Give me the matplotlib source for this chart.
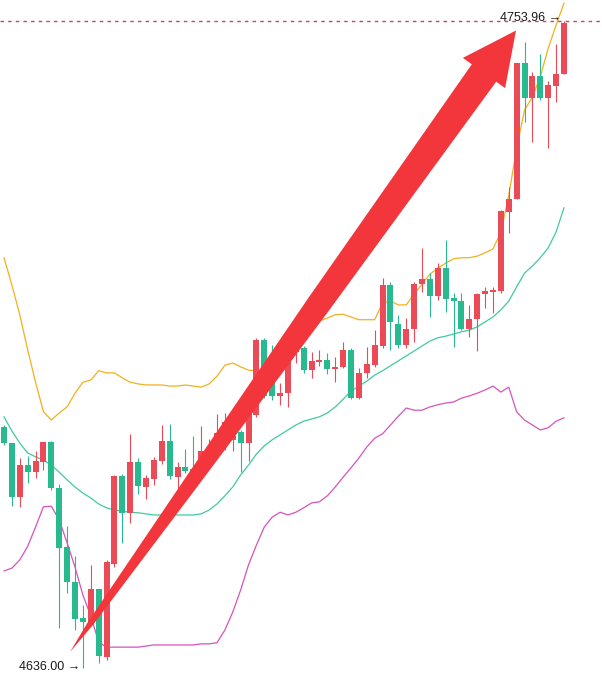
import matplotlib
matplotlib.use("Agg")
from matplotlib import pyplot as plt
from matplotlib.patches import Polygon
from matplotlib.transforms import Affine2D

# candle data (index 0 .. 71)
opens = [4679.94, 4677.02, 4667.18, 4673.01, 4671.74, 4673.56, 4677.20, 4668.82, 4658.06, 4651.68,
         4645.12, 4644.39, 4650.40, 4638.00, 4654.96, 4671.00, 4664.26, 4673.56, 4669.00, 4670.46,
         4673.74, 4677.39, 4670.82, 4672.65, 4672.28, 4672.65, 4675.38, 4676.11, 4677.57, 4677.57,
         4679.03, 4677.02, 4682.13, 4695.80, 4688.87, 4685.59, 4686.14, 4693.61, 4694.34, 4690.33,
         4691.79, 4692.15, 4690.51, 4690.88, 4693.98, 4685.23, 4689.79, 4691.24, 4694.71, 4705.83,
         4698.72, 4694.89, 4697.80, 4706.01, 4706.92, 4703.82, 4708.93, 4703.46, 4702.91, 4697.80,
         4699.63, 4704.19, 4704.55, 4704.73, 4719.14, 4721.51, 4746.30, 4739.92, 4743.93, 4739.92,
         4742.11, 4744.30]
closes = [4677.02, 4667.18, 4673.01, 4671.74, 4673.74, 4677.20, 4668.82, 4657.88, 4651.68, 4644.93,
          4644.39, 4650.40, 4638.19, 4655.32, 4671.00, 4664.26, 4673.56, 4669.18, 4670.64, 4673.92,
          4677.39, 4671.00, 4672.65, 4671.92, 4671.92, 4675.56, 4676.11, 4678.85, 4680.85, 4678.30,
          4677.02, 4682.31, 4695.80, 4685.59, 4685.59, 4686.14, 4693.98, 4694.34, 4690.33, 4691.97,
          4692.15, 4690.51, 4690.88, 4693.98, 4685.23, 4689.79, 4691.43, 4694.89, 4705.83, 4699.08,
          4694.89, 4697.80, 4706.01, 4706.92, 4703.82, 4708.93, 4703.28, 4702.91, 4697.80, 4699.63,
          4704.19, 4704.73, 4704.91, 4719.32, 4721.51, 4746.30, 4739.92, 4743.93, 4739.92, 4742.29,
          4744.30, 4753.60]
highs = [4680.30, 4677.02, 4674.29, 4674.65, 4675.56, 4677.20, 4677.39, 4669.55, 4661.89, 4656.42,
         4647.49, 4654.78, 4650.40, 4655.69, 4671.19, 4671.37, 4678.66, 4674.29, 4671.19, 4674.47,
         4680.30, 4680.49, 4673.56, 4675.93, 4678.30, 4680.12, 4677.75, 4682.31, 4682.49, 4680.12,
         4679.39, 4682.49, 4696.16, 4696.16, 4694.89, 4687.96, 4694.52, 4695.80, 4694.71, 4693.61,
         4693.98, 4693.43, 4692.70, 4695.44, 4694.34, 4690.70, 4694.52, 4697.62, 4707.10, 4706.37,
         4700.36, 4699.81, 4706.37, 4712.57, 4708.02, 4709.84, 4714.03, 4704.37, 4704.37, 4702.18,
         4704.37, 4705.46, 4705.46, 4719.50, 4723.69, 4746.30, 4750.13, 4744.66, 4747.94, 4743.02,
         4749.77, 4753.96]
lows = [4676.66, 4665.54, 4665.35, 4669.73, 4670.64, 4672.10, 4668.45, 4643.29, 4649.67, 4642.93,
        4636.00, 4644.39, 4636.91, 4637.46, 4654.42, 4658.79, 4662.44, 4667.72, 4666.81, 4669.36,
        4673.19, 4670.46, 4667.18, 4671.55, 4671.55, 4672.10, 4674.83, 4675.56, 4675.75, 4675.56,
        4671.74, 4673.74, 4681.76, 4685.23, 4684.86, 4683.95, 4683.59, 4691.61, 4689.79, 4688.87,
        4691.06, 4689.60, 4688.15, 4690.70, 4685.05, 4685.05, 4688.87, 4690.88, 4694.34, 4693.98,
        4694.34, 4694.34, 4695.44, 4704.55, 4699.99, 4703.09, 4700.91, 4694.52, 4697.62, 4696.35,
        4693.80, 4701.63, 4700.72, 4704.37, 4715.31, 4721.51, 4735.55, 4731.90, 4739.56, 4730.81,
        4739.19, 4744.30]

# bollinger bands
boll_up = [4710.8, 4705.8, 4700.4, 4694.0, 4688.1, 4682.7, 4681.2, 4682.5, 4683.6, 4686.1,
           4688.1, 4688.5, 4690.2, 4689.8, 4689.8, 4688.9, 4688.1, 4687.8, 4687.6, 4687.6,
           4687.6, 4687.4, 4687.4, 4687.6, 4687.4, 4687.2, 4687.8, 4689.2, 4691.2, 4691.6,
           4690.9, 4690.3, 4690.2, 4690.2, 4690.7, 4692.5, 4694.9, 4697.1, 4698.4, 4698.9,
           4699.3, 4699.8, 4700.4, 4700.5, 4700.0, 4699.5, 4699.5, 4699.5, 4702.6, 4702.9,
           4702.2, 4702.2, 4704.2, 4706.0, 4707.8, 4708.9, 4709.8, 4710.6, 4710.8, 4710.8,
           4711.1, 4711.7, 4712.4, 4715.5, 4722.2, 4730.8, 4737.7, 4740.1, 4743.8, 4749.0,
           4753.2, 4757.2]
boll_mid = [4681.8, 4679.2, 4677.0, 4675.2, 4674.5, 4673.9, 4673.0, 4671.7, 4670.3, 4669.0,
            4667.9, 4667.0, 4665.9, 4665.2, 4664.8, 4664.6, 4664.4, 4664.3, 4664.1, 4663.9,
            4663.9, 4663.9, 4663.9, 4663.9, 4663.9, 4664.1, 4664.8, 4665.9, 4667.4, 4669.0,
            4671.2, 4673.0, 4675.0, 4676.5, 4677.6, 4678.5, 4679.4, 4680.3, 4681.0, 4681.4,
            4681.8, 4682.5, 4683.6, 4685.0, 4686.5, 4687.4, 4688.3, 4689.4, 4690.2, 4691.1,
            4692.0, 4692.9, 4693.8, 4694.7, 4695.6, 4696.2, 4696.5, 4696.9, 4697.3, 4697.6,
            4698.2, 4699.1, 4700.0, 4701.3, 4702.9, 4705.5, 4708.0, 4709.3, 4710.8, 4712.6,
            4715.5, 4719.9]
boll_low = [4653.7, 4654.2, 4655.7, 4658.2, 4661.7, 4665.4, 4665.5, 4663.0, 4658.8, 4654.4,
            4649.3, 4645.5, 4640.7, 4639.8, 4639.8, 4639.8, 4639.8, 4639.8, 4640.0, 4640.2,
            4640.2, 4640.2, 4640.2, 4640.2, 4640.2, 4640.4, 4640.4, 4640.6, 4642.9, 4646.2,
            4650.2, 4654.8, 4658.4, 4661.7, 4663.5, 4664.4, 4663.9, 4664.4, 4665.2, 4666.1,
            4666.3, 4667.4, 4669.0, 4670.8, 4672.5, 4674.3, 4676.3, 4677.9, 4678.7, 4680.3,
            4681.9, 4683.4, 4683.0, 4683.0, 4683.6, 4684.0, 4684.3, 4684.5, 4685.2, 4685.6,
            4686.1, 4686.7, 4687.4, 4686.3, 4687.2, 4682.7, 4681.2, 4680.3, 4679.4, 4679.8,
            4681.0, 4681.6]

# hand drawn arrow outline, in image pixels (x right, y down)
arrow_px = [(70, 652), (93.1, 624.8), (200.3, 482.7), (328.2, 311.6), (496.2, 81.7),
            (505.1, 88.1), (516.0, 30.5), (462.9, 57.9), (471.8, 64.3),
            (308.6, 297.6), (188.1, 473.9), (88.3, 621.4)]

UP = '#eb4a57'
DOWN = '#29b98e'

W, H = 602, 680
fig = plt.figure(figsize=(W / 100, H / 100), dpi=100)
ax = fig.add_axes([0, 0, 1, 1])
ax.set_axis_off()

n = len(opens)
idx = list(range(n))

ax.plot(idx, boll_up, color='#f2b01e', lw=0.9, zorder=1)
ax.plot(idx, boll_mid, color='#3fcaa3', lw=0.9, zorder=1)
ax.plot(idx, boll_low, color='#d653bb', lw=0.9, zorder=1)

for i in idx:
    o, c = opens[i], closes[i]
    col = UP if c >= o else DOWN
    ax.vlines(i, lows[i], highs[i], color=col, lw=0.8, zorder=2)
    h = abs(c - o)
    if h < 0.35:
        h = 0.35
    ax.bar(i, h, bottom=min(o, c), width=0.76, color=col, lw=0, zorder=3)

ax.set_xlim(-0.51, 75.82)
ax.set_ylim(4633.81, 4757.79)

# high / low marks
hi = max(highs)
lo = min(lows)
ax.axhline(hi, color='#cc3f66', lw=1.0, ls=(0, (2.5, 3)), zorder=1)
fam = ['Liberation Sans', 'DejaVu Sans']
ax.annotate('%.2f \u2192' % hi, xy=(highs.index(hi), hi), xytext=(-3, 3),
            textcoords='offset pixels', ha='right', va='center',
            fontsize=9, family=fam, color='#1a1a1a')
ax.annotate('%.2f \u2192' % lo, xy=(lows.index(lo), lo), xytext=(-3, 1),
            textcoords='offset pixels', ha='right', va='center',
            fontsize=9, family=fam, color='#1a1a1a')

# big red arrow on top
px2fig = Affine2D().scale(1 / W, -1 / H).translate(0, 1) + fig.transFigure
ax.add_patch(Polygon(arrow_px, closed=True, facecolor='#f3363c', edgecolor='none',
                     transform=px2fig, zorder=5))

fig.savefig('out.png', dpi=100)
